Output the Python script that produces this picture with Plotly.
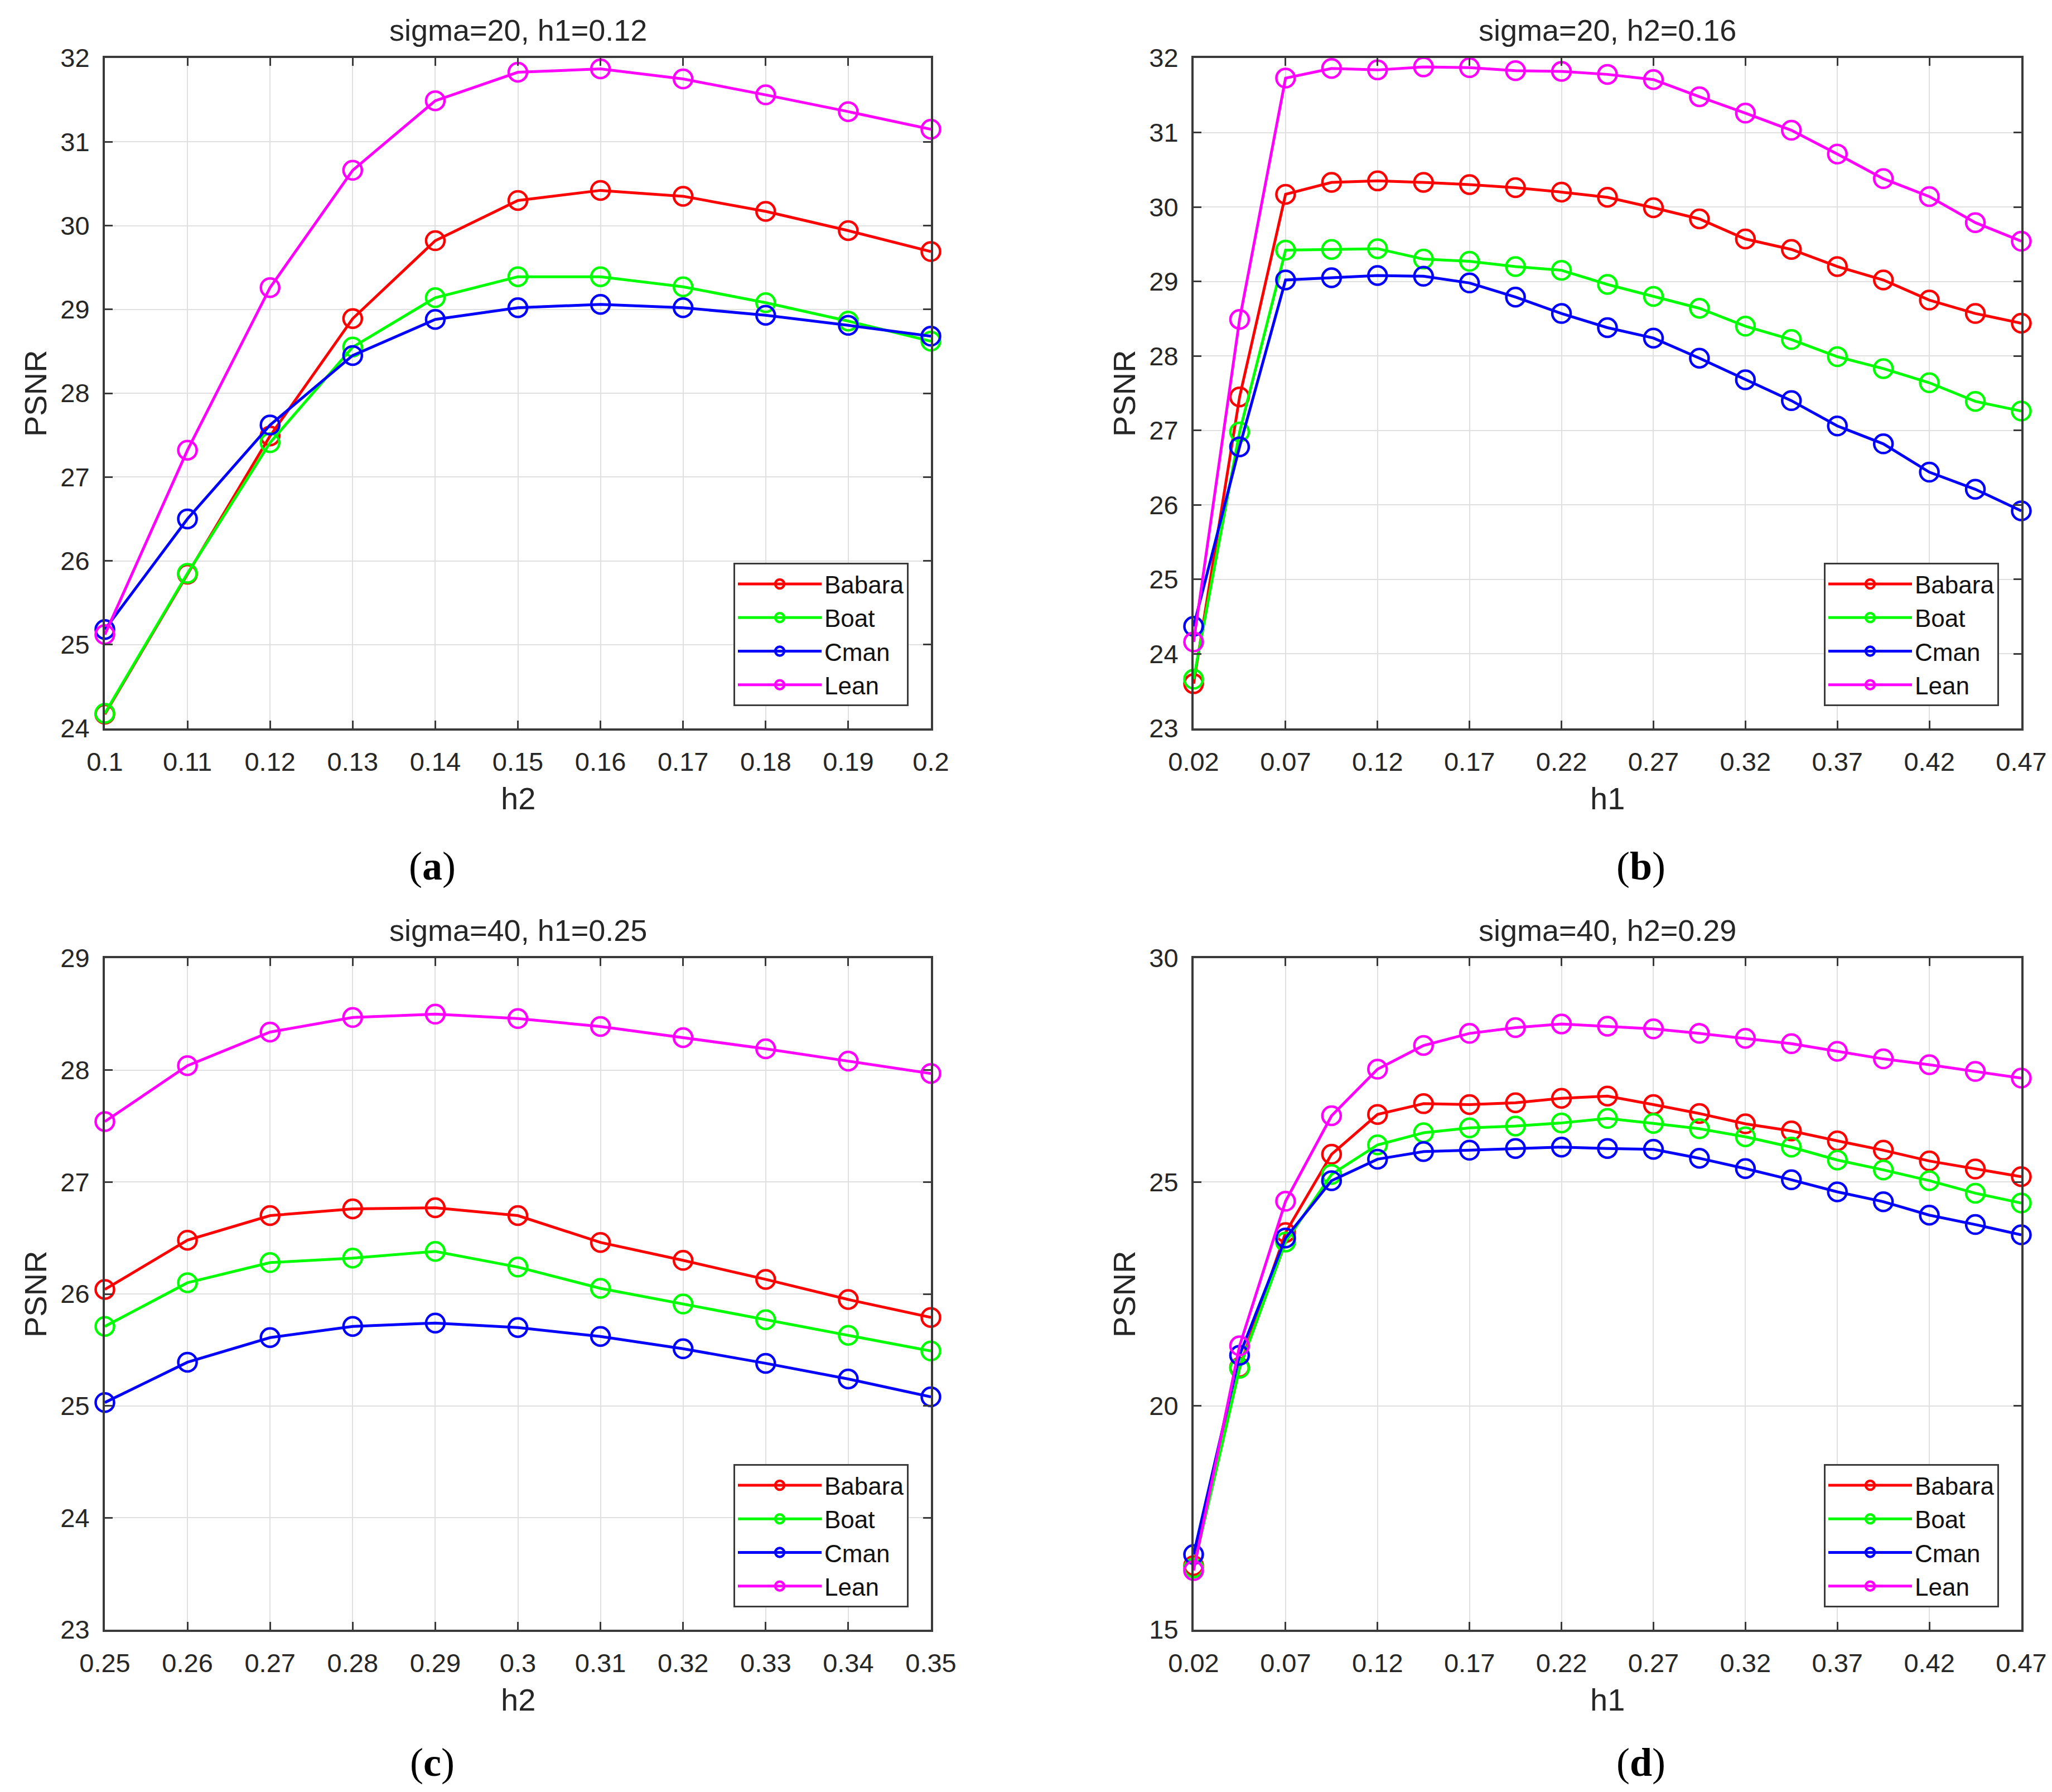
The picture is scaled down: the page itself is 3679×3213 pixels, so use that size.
import plotly.graph_objects as go

W, H = 3679, 3213

# ---------------- data ----------------
series_names = ["Babara", "Boat", "Cman", "Lean"]
series_colors = ["#FF0000", "#00FF00", "#0000FF", "#FF00FF"]

# panel (a): sigma=20, h1=0.12, x = h2
a_h2 = [0.10, 0.11, 0.12, 0.13, 0.14, 0.15, 0.16, 0.17, 0.18, 0.19, 0.20]
a_babara = [24.17, 25.84, 27.49, 28.89, 29.82, 30.30, 30.42, 30.35, 30.17, 29.94, 29.69]
a_boat = [24.18, 25.85, 27.41, 28.55, 29.14, 29.39, 29.39, 29.27, 29.08, 28.86, 28.62]
a_cman = [25.18, 26.50, 27.62, 28.45, 28.88, 29.02, 29.06, 29.02, 28.93, 28.81, 28.68]
a_lean = [25.12, 27.32, 29.26, 30.66, 31.49, 31.83, 31.87, 31.75, 31.56, 31.36, 31.15]
a_xticks = [0.10, 0.11, 0.12, 0.13, 0.14, 0.15, 0.16, 0.17, 0.18, 0.19, 0.20]
a_xticktext = ["0.1", "0.11", "0.12", "0.13", "0.14", "0.15", "0.16", "0.17", "0.18", "0.19", "0.2"]
a_yticks = [24, 25, 26, 27, 28, 29, 30, 31, 32]

# panel (b): sigma=20, h2=0.16, x = h1
b_h1 = [0.02, 0.045, 0.07, 0.095, 0.12, 0.145, 0.17, 0.195, 0.22, 0.245,
        0.27, 0.295, 0.32, 0.345, 0.37, 0.395, 0.42, 0.445, 0.47]
b_babara = [23.60, 27.45, 30.17, 30.33, 30.35, 30.33, 30.30, 30.26, 30.20, 30.13,
            29.99, 29.84, 29.57, 29.43, 29.20, 29.02, 28.75, 28.57, 28.44]
b_boat = [23.66, 26.98, 29.42, 29.43, 29.44, 29.30, 29.27, 29.20, 29.15, 28.96,
          28.80, 28.64, 28.40, 28.22, 27.99, 27.83, 27.64, 27.39, 27.26]
b_cman = [24.37, 26.78, 29.02, 29.05, 29.08, 29.07, 28.98, 28.79, 28.57, 28.38,
          28.24, 27.97, 27.68, 27.40, 27.06, 26.82, 26.44, 26.21, 25.92]
b_lean = [24.16, 28.49, 31.73, 31.86, 31.84, 31.88, 31.87, 31.83, 31.82, 31.78,
          31.71, 31.48, 31.26, 31.03, 30.71, 30.38, 30.14, 29.79, 29.54]
b_xticks = [0.02, 0.07, 0.12, 0.17, 0.22, 0.27, 0.32, 0.37, 0.42, 0.47]
b_xticktext = ["0.02", "0.07", "0.12", "0.17", "0.22", "0.27", "0.32", "0.37", "0.42", "0.47"]
b_yticks = [23, 24, 25, 26, 27, 28, 29, 30, 31, 32]

# panel (c): sigma=40, h1=0.25, x = h2
c_h2 = [0.25, 0.26, 0.27, 0.28, 0.29, 0.30, 0.31, 0.32, 0.33, 0.34, 0.35]
c_babara = [26.04, 26.48, 26.70, 26.76, 26.77, 26.70, 26.46, 26.30, 26.13, 25.95, 25.79]
c_boat = [25.71, 26.10, 26.28, 26.32, 26.38, 26.24, 26.05, 25.91, 25.77, 25.63, 25.49]
c_cman = [25.03, 25.39, 25.61, 25.71, 25.74, 25.70, 25.62, 25.51, 25.38, 25.24, 25.08]
c_lean = [27.54, 28.04, 28.34, 28.47, 28.50, 28.46, 28.39, 28.29, 28.19, 28.08, 27.97]
c_xticks = [0.25, 0.26, 0.27, 0.28, 0.29, 0.30, 0.31, 0.32, 0.33, 0.34, 0.35]
c_xticktext = ["0.25", "0.26", "0.27", "0.28", "0.29", "0.3", "0.31", "0.32", "0.33", "0.34", "0.35"]
c_yticks = [23, 24, 25, 26, 27, 28, 29]

# panel (d): sigma=40, h2=0.29, x = h1
d_h1 = [0.02, 0.045, 0.07, 0.095, 0.12, 0.145, 0.17, 0.195, 0.22, 0.245,
        0.27, 0.295, 0.32, 0.345, 0.37, 0.395, 0.42, 0.445, 0.47]
d_babara = [16.43, 20.86, 23.87, 25.62, 26.51, 26.75, 26.73, 26.77, 26.87, 26.92,
            26.73, 26.53, 26.30, 26.14, 25.92, 25.71, 25.47, 25.29, 25.12]
d_boat = [16.38, 20.84, 23.66, 25.17, 25.83, 26.10, 26.21, 26.25, 26.32, 26.42,
          26.31, 26.19, 26.01, 25.78, 25.49, 25.27, 25.03, 24.75, 24.53]
d_cman = [16.68, 21.13, 23.75, 25.03, 25.51, 25.68, 25.71, 25.75, 25.78, 25.75,
          25.73, 25.53, 25.30, 25.05, 24.78, 24.56, 24.26, 24.05, 23.82]
d_lean = [16.32, 21.34, 24.57, 26.48, 27.52, 28.05, 28.32, 28.45, 28.53, 28.48,
          28.42, 28.32, 28.21, 28.09, 27.92, 27.75, 27.62, 27.47, 27.32]
d_xticks = b_xticks
d_xticktext = b_xticktext
d_yticks = [15, 20, 25, 30]

panel_titles = ["sigma=20, h1=0.12", "sigma=20, h2=0.16", "sigma=40, h1=0.25", "sigma=40, h2=0.29"]
panel_xlabels = ["h2", "h1", "h2", "h1"]
panel_tags = ["a", "b", "c", "d"]

panels = [
    (a_h2, [a_babara, a_boat, a_cman, a_lean], a_xticks, a_xticktext, a_yticks),
    (b_h1, [b_babara, b_boat, b_cman, b_lean], b_xticks, b_xticktext, b_yticks),
    (c_h2, [c_babara, c_boat, c_cman, c_lean], c_xticks, c_xticktext, c_yticks),
    (d_h1, [d_babara, d_boat, d_cman, d_lean], d_xticks, d_xticktext, d_yticks),
]

# ---------------- layout geometry (pixels) ----------------
col_x = [(188, 1669), (2140, 3624)]
row_y = [(104, 1306), (1718, 2922)]
tag_offset = [247, 238]


def px(x):
    return x / W


def py(y):
    return 1 - y / H


SANS = "Liberation Sans, Arial, sans-serif"
AX_COLOR = "#3a3a3a"
TXT_COLOR = "#262626"
GRID = "#e0e0e0"

fig = go.Figure()
layout = dict(
    width=W, height=H,
    margin=dict(l=0, r=0, t=0, b=0, autoexpand=False),
    paper_bgcolor="white", plot_bgcolor="white",
    font=dict(family=SANS, size=46, color=TXT_COLOR),
    showlegend=True,
    annotations=[],
)

for i, (xs, ys_list, xt, xtt, yt) in enumerate(panels):
    r, c = divmod(i, 2)
    x0, x1 = col_x[c]
    y0, y1 = row_y[r]
    sfx = "" if i == 0 else str(i + 1)
    leg = "legend" if i == 0 else "legend" + str(i + 1)
    for name, col, ys in zip(series_names, series_colors, ys_list):
        fig.add_trace(go.Scatter(
            x=xs, y=ys, name=name, mode="lines+markers",
            line=dict(color=col, width=5),
            marker=dict(symbol="circle-open", size=33, color=col, line=dict(width=4.5, color=col)),
            xaxis="x" + sfx, yaxis="y" + sfx, legend=leg, cliponaxis=False,
        ))
    common = dict(
        showline=True, linecolor=AX_COLOR, linewidth=4, mirror="ticks",
        ticks="inside", ticklen=14, tickwidth=3, tickcolor=AX_COLOR,
        showgrid=True, gridcolor=GRID, gridwidth=2, zeroline=False,
        tickfont=dict(family=SANS, size=47, color=TXT_COLOR),
        automargin=False,
    )
    layout["xaxis" + sfx] = dict(
        common, domain=[px(x0), px(x1)], anchor="y" + sfx,
        range=[xs[0], xs[-1]], tickmode="array", tickvals=xt, ticktext=xtt,
        ticklabelstandoff=16,
    )
    layout["yaxis" + sfx] = dict(
        common, domain=[py(y1), py(y0)], anchor="x" + sfx,
        range=[yt[0], yt[-1]], tickmode="array", tickvals=yt,
        ticktext=[str(v) for v in yt], ticklabelstandoff=14,
    )
    layout[leg] = dict(
        x=px(x1 - 40), y=py(y1 - 40), xanchor="right", yanchor="bottom",
        bgcolor="white", bordercolor=AX_COLOR, borderwidth=3,
        font=dict(family=SANS, size=44, color="#111111"),
        itemwidth=150, tracegroupgap=0,
    )
    cx = (x0 + x1) / 2
    layout["annotations"] += [
        dict(text=panel_titles[i], x=px(cx), y=py(y0 - 50), xref="paper", yref="paper",
             showarrow=False, xanchor="center", yanchor="middle",
             font=dict(family=SANS, size=54, color=TXT_COLOR)),
        dict(text=panel_xlabels[i], x=px(cx), y=py(y1 + 125), xref="paper", yref="paper",
             showarrow=False, xanchor="center", yanchor="middle",
             font=dict(family=SANS, size=56, color=TXT_COLOR)),
        dict(text="PSNR", x=px(x0 - 125), y=py((y0 + y1) / 2), xref="paper", yref="paper",
             showarrow=False, xanchor="center", yanchor="middle", textangle=-90,
             font=dict(family=SANS, size=56, color=TXT_COLOR)),
        dict(text="(<b>" + panel_tags[i] + "</b>)", x=px(cx - 154 if c == 0 else cx + 60),
             y=py(y1 + tag_offset[r]), xref="paper", yref="paper",
             showarrow=False, xanchor="center", yanchor="middle",
             font=dict(family="Liberation Serif, Times New Roman, serif", size=72, color="black")),
    ]

fig.update_layout(**layout)
fig.write_html("out.html")
